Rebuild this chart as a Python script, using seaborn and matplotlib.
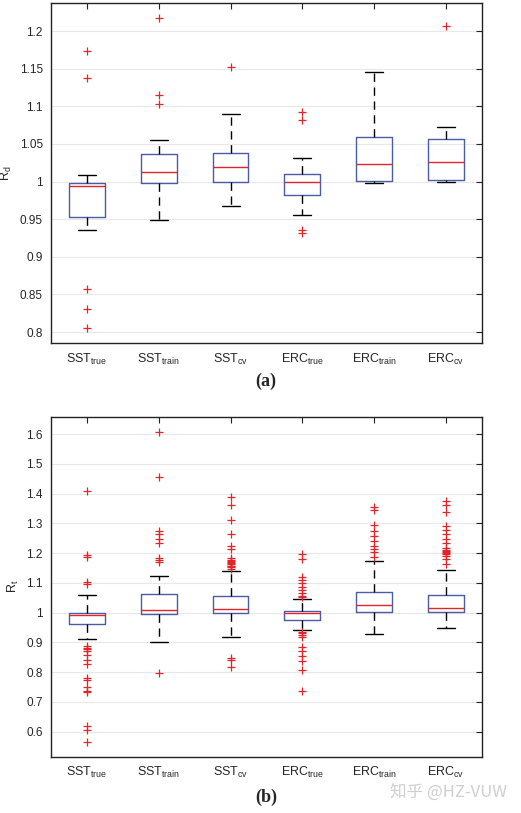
import matplotlib
matplotlib.use('Agg')
import matplotlib.pyplot as plt
import matplotlib.ticker as mticker
import numpy as np
import pandas as pd
import seaborn as sns

sns.set_style('white')
plt.rcParams['font.family'] = ['Liberation Sans', 'DejaVu Sans']
plt.rcParams['mathtext.fontset'] = 'custom'
plt.rcParams['mathtext.rm'] = 'Liberation Sans'
plt.rcParams['mathtext.it'] = 'Liberation Sans:italic'

groups = ['SST_true', 'SST_train', 'SST_cv', 'ERC_true', 'ERC_train', 'ERC_cv']
tick_labels = [r'SST$_{\mathrm{true}}$', r'SST$_{\mathrm{train}}$', r'SST$_{\mathrm{cv}}$',
               r'ERC$_{\mathrm{true}}$', r'ERC$_{\mathrm{train}}$', r'ERC$_{\mathrm{cv}}$']

# panel (a): R_d  (whisker ends, quartiles, median, outliers)
rd_low = [0.935, 0.949, 0.967, 0.956, 0.9985, 0.999]
rd_q1 = [0.953, 0.998, 0.999, 0.982, 1.0002, 1.002]
rd_med = [0.994, 1.0126, 1.019, 0.999, 1.024, 1.026]
rd_q3 = [0.998, 1.0365, 1.0383, 1.0095, 1.0596, 1.0565]
rd_high = [1.009, 1.0547, 1.0893, 1.0308, 1.146, 1.072]
rd_outliers = [
    [1.173, 1.138, 0.857, 0.830, 0.805],
    [1.217, 1.1145, 1.103],
    [1.152],
    [1.092, 1.082, 0.935, 0.932],
    [],
    [1.2066],
]

# panel (b): R_t
rt_low = [0.9125, 0.900, 0.917, 0.941, 0.929, 0.947]
rt_q1 = [0.961, 0.9944, 0.998, 0.976, 1.001, 1.001]
rt_med = [0.992, 1.008, 1.012, 0.999, 1.0246, 1.0155]
rt_q3 = [0.9997, 1.0615, 1.057, 1.004, 1.0703, 1.060]
rt_high = [1.058, 1.124, 1.140, 1.0447, 1.1745, 1.143]
rt_outliers = [
    [1.4085, 1.193, 1.187, 1.102, 1.096,
     0.889, 0.882, 0.877, 0.872, 0.858, 0.841, 0.826, 0.781, 0.774,
     0.749, 0.737, 0.732, 0.620, 0.606, 0.566],
    [1.6057, 1.4545, 1.274, 1.263, 1.247, 1.233, 1.182, 1.177, 1.171, 0.798],
    [1.387, 1.3615, 1.310, 1.263, 1.225, 1.214, 1.1825, 1.178, 1.1745, 1.17,
     1.166, 1.162, 1.158, 1.155, 1.152, 1.148, 0.849, 0.841, 0.816],
    [1.197, 1.179, 1.119, 1.110, 1.098, 1.087, 1.076, 1.065, 1.056, 1.051,
     0.936, 0.931, 0.925, 0.919, 0.8855, 0.871, 0.854, 0.8375, 0.806, 0.738],
    [1.354, 1.345, 1.294, 1.275, 1.258, 1.240, 1.225, 1.213, 1.205, 1.188],
    [1.376, 1.3615, 1.337, 1.292, 1.2775, 1.263, 1.247, 1.233, 1.216, 1.21,
     1.207, 1.203, 1.199, 1.196, 1.190, 1.179, 1.162],
]

box_blue = '#4a5ca6'
red = '#e0262b'


def box_frame(low, q1, med, q3, high):
    rows = []
    for g, vals in zip(groups, zip(low, q1, med, q3, high)):
        for v in vals:
            rows.append((g, v))
    return pd.DataFrame(rows, columns=['group', 'value'])


def out_frame(outliers):
    rows = [(g, v) for g, vals in zip(groups, outliers) for v in vals]
    return pd.DataFrame(rows, columns=['group', 'value'])


def draw(ax, low, q1, med, q3, high, outliers, ylim, ticks, ylabel):
    sns.boxplot(data=box_frame(low, q1, med, q3, high), x='group', y='value',
                order=groups, width=0.5, whis=(0, 100), showfliers=False,
                fill=False, color=box_blue, linewidth=1.0,
                boxprops={'color': box_blue},
                medianprops={'color': red, 'linewidth': 1.0},
                whiskerprops={'color': 'black', 'linestyle': (0, (6, 4))},
                capprops={'color': 'black'}, ax=ax)
    sns.stripplot(data=out_frame(outliers), x='group', y='value', order=groups,
                  jitter=False, marker='+', color=red, size=6, linewidth=0.9,
                  ax=ax, zorder=5)
    ax.set_xlim(-0.5, 5.5)
    ax.set_ylim(*ylim)
    ax.set_yticks(ticks)
    ax.yaxis.set_major_formatter(mticker.FormatStrFormatter('%g'))
    ax.set_xticks(range(len(groups)))
    ax.set_xticklabels(tick_labels, fontsize=9)
    ax.tick_params(axis='y', labelsize=8.5)
    ax.tick_params(direction='in', top=True, right=True, length=4,
                   width=0.8, color='#222222', pad=6)
    ax.grid(axis='y', color='#e8e8e8', linewidth=0.8)
    ax.set_axisbelow(True)
    for s in ax.spines.values():
        s.set_color('#222222')
        s.set_linewidth(1.0)
    ax.set_xlabel('')
    ax.set_ylabel(ylabel, fontsize=9)


fig = plt.figure(figsize=(5.21, 8.13), dpi=100)
ax1 = fig.add_axes([0.0979, 0.5777, 0.827, 0.4182])
ax2 = fig.add_axes([0.0979, 0.0692, 0.827, 0.4182])

draw(ax1, rd_low, rd_q1, rd_med, rd_q3, rd_high, rd_outliers,
     (0.785, 1.237), np.round(np.arange(0.8, 1.2001, 0.05), 2), r'R$_{\mathrm{d}}$')
draw(ax2, rt_low, rt_q1, rt_med, rt_q3, rt_high, rt_outliers,
     (0.516, 1.658), np.round(np.arange(0.6, 1.6001, 0.1), 1), r'R$_{\mathrm{t}}$')

fig.text(0.511, 0.531, '(a)', ha='center', va='center', fontsize=13,
         fontweight='bold', family='Liberation Serif')
fig.text(0.511, 0.0197, '(b)', ha='center', va='center', fontsize=13,
         fontweight='bold', family='Liberation Serif')
fig.text(0.972, 0.026, '知乎 @HZ-VUW', ha='right', va='center', fontsize=12,
         color='#cfcfcf', family=['Noto Sans CJK SC', 'DejaVu Sans'])

fig.savefig('out.png', dpi=100)
